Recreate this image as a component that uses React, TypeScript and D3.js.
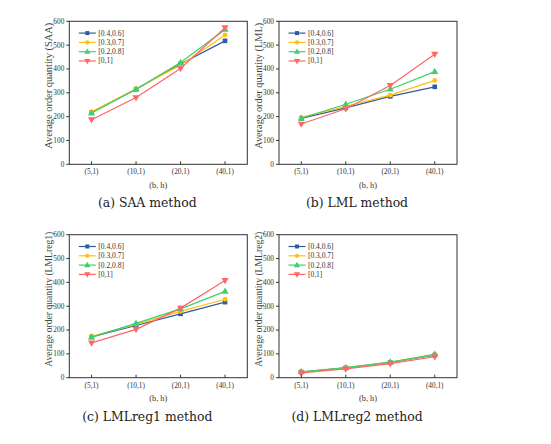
import React from "react";
import * as d3 from "d3";

const categories = ["(5,1)", "(10,1)", "(20,1)", "(40,1)"];
const yTicks = [0, 100, 200, 300, 400, 500, 600];
const seriesNames = ["[0.4,0.6]", "[0.3,0.7]", "[0.2,0.8]", "[0,1]"];
const seriesColors = ["#2f5c9e", "#ffc20e", "#3fcf6f", "#ff6666"];
const seriesMarkers = ["square", "circle", "triUp", "triDown"];

const saaValues = [
  [218, 315, 421, 518],
  [220, 317, 416, 543],
  [215, 315, 427, 566],
  [187, 280, 402, 573],
];
const lmlValues = [
  [193, 237, 285, 325],
  [197, 243, 290, 352],
  [193, 252, 315, 389],
  [169, 233, 331, 462],
];
const lmlreg1Values = [
  [171, 219, 268, 317],
  [174, 224, 278, 329],
  [170, 228, 289, 362],
  [146, 203, 292, 408],
];
const lmlreg2Values = [
  [24, 41, 64, 95],
  [24, 41, 64, 97],
  [25, 42, 65, 98],
  [20, 37, 59, 88],
];

const panels = [
  { values: saaValues, yLabel: "Average order quantity (SAA)", caption: "(a) SAA method", left: 69.3, top: 21.3, labelLen: 126 },
  { values: lmlValues, yLabel: "Average order quantity (LML)", caption: "(b) LML method", left: 279, top: 21.3, labelLen: 126 },
  { values: lmlreg1Values, yLabel: "Average order quantity (LMLreg1)", caption: "(c) LMLreg1 method", left: 69.3, top: 234.7, labelLen: 135 },
  { values: lmlreg2Values, yLabel: "Average order quantity (LMLreg2)", caption: "(d) LMLreg2 method", left: 279, top: 234.7, labelLen: 135 },
];

const W = 178;
const H = 143;
const tickFont = "Liberation Serif, Times New Roman, Times, serif";

function Marker({ kind, x, y, color, s = 2.3 }: { kind: string; x: number; y: number; color: string; s?: number }) {
  if (kind === "square") return <rect x={x - s} y={y - s} width={2 * s} height={2 * s} fill={color} />;
  if (kind === "circle") return <circle cx={x} cy={y} r={s * 1.05} fill={color} />;
  const sym = d3.symbol().type(d3.symbolTriangle).size(s * s * 4.2)();
  return <path d={sym || ""} transform={`translate(${x},${y + (kind === "triDown" ? -0.3 : 0.3)}) rotate(${kind === "triDown" ? 180 : 0})`} fill={color} />;
}

function Panel({ p }: { p: (typeof panels)[number] }) {
  const left = p.left, top = p.top, right = left + W, bottom = top + H;
  const x = d3.scalePoint<string>().domain(categories).range([left, right]).padding(0.5);
  const y = d3.scaleLinear().domain([0, 600]).range([bottom, top]);
  const line = d3.line<number>().x((_, i) => x(categories[i]) as number).y((v) => y(v));
  const cx = (left + right) / 2;
  return (
    <g>
      {p.values.map((vals, si) => (
        <g key={si}>
          <path d={line(vals) || ""} fill="none" stroke={seriesColors[si]} strokeWidth={1.2} />
          {vals.map((v, i) => (
            <Marker key={i} kind={seriesMarkers[si]} x={x(categories[i]) as number} y={y(v)} color={seriesColors[si]} />
          ))}
        </g>
      ))}
      <rect x={left} y={top} width={W} height={H} fill="none" stroke="#333" strokeWidth={1} />
      {yTicks.map((t) => (
        <g key={t}>
          <line x1={left - 3} x2={left} y1={y(t)} y2={y(t)} stroke="#333" strokeWidth={1} />
          <text x={left - 5} y={y(t)} dy="0.33em" textAnchor="end" fontFamily={tickFont} fontSize={7.3} fill="#333">{t}</text>
        </g>
      ))}
      {categories.map((c) => (
        <g key={c}>
          <line x1={x(c) as number} x2={x(c) as number} y1={bottom} y2={bottom - 3} stroke="#333" strokeWidth={1} />
          <text x={x(c) as number} y={bottom + 7.6} dy="0.33em" textAnchor="middle" fontFamily={tickFont} fontSize={7.3} fill="#333">{c}</text>
        </g>
      ))}
      <text x={cx} y={bottom + 21} dy="0.33em" textAnchor="middle" fontFamily={tickFont} fontSize={8.3} fill="#333">(b, h)</text>
      <text transform={`translate(${left - 20},${(top + bottom) / 2 - 7}) rotate(-90)`} dy="0.33em" textAnchor="middle" fontFamily={tickFont} fontSize={9.4} fill="#444" textLength={p.labelLen} lengthAdjust="spacingAndGlyphs">{p.yLabel}</text>
      {seriesNames.map((n, si) => {
        const ly = top + 11.8 + si * 9.3;
        return (
          <g key={n}>
            <line x1={left + 9.5} x2={left + 26.5} y1={ly} y2={ly} stroke={seriesColors[si]} strokeWidth={1.2} />
            <Marker kind={seriesMarkers[si]} x={left + 18} y={ly} color={seriesColors[si]} s={2} />
            <text x={left + 29} y={ly} dy="0.33em" fontFamily={tickFont} fontSize={7.5} fill="#333">{n}</text>
          </g>
        );
      })}
      <text x={cx - 11} y={bottom + 38.8} dy="0.35em" textAnchor="middle" fontFamily="DejaVu Serif, serif" fontSize={12.4} fill="#222">{p.caption}</text>
    </g>
  );
}

export default function App() {
  return (
    <svg width={551} height={444} style={{ position: "absolute", left: 0, top: 0, background: "#fff" }}>
      <rect width={551} height={444} fill="#fff" />
      {panels.map((p, i) => (
        <Panel key={i} p={p} />
      ))}
    </svg>
  );
}
